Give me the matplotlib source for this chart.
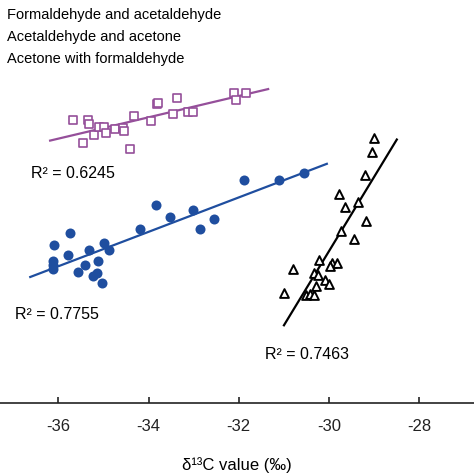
import numpy as np
import matplotlib
matplotlib.use("Agg")
import matplotlib.pyplot as plt

plt.rcParams['font.family'] = ['Liberation Sans', 'DejaVu Sans']
plt.rcParams['axes.unicode_minus'] = False

# series values (y axis is hidden in the crop, arbitrary units)
fa_x = [-31.89, -33.84, -33.53, -33.02, -32.54, -32.85, -34.19, -35.74, -36.10, -34.99,
        -34.88, -35.32, -35.79, -36.12, -36.12, -36.12, -35.41, -35.11, -35.57, -35.15,
        -35.24, -35.02, -31.11, -30.55]
fa_y = [4.95, 4.38, 4.13, 4.28, 4.08, 3.87, 3.87, 3.78, 3.51, 3.54,
        3.40, 3.40, 3.28, 3.16, 3.06, 2.97, 3.06, 3.14, 2.91, 2.89,
        2.82, 2.67, 4.95, 5.11]

aa_x = [-35.68, -35.34, -35.31, -35.46, -35.20, -35.10, -34.99, -34.95, -34.74, -34.57,
        -34.54, -34.40, -34.33, -33.95, -33.81, -33.79, -33.36, -33.45, -33.13, -33.02,
        -32.10, -32.06, -31.85]
aa_y = [6.27, 6.27, 6.18, 5.76, 5.94, 6.12, 6.11, 5.99, 6.07, 6.10,
        6.02, 5.63, 6.36, 6.25, 6.63, 6.66, 6.77, 6.40, 6.45, 6.44,
        6.87, 6.72, 6.88]

af_x = [-29.00, -29.05, -29.21, -29.78, -29.65, -29.36, -29.18, -29.73, -29.44, -30.22,
        -29.94, -29.83, -29.97, -30.81, -30.34, -30.25, -30.10, -30.00, -30.28, -31.00,
        -30.52, -30.42, -30.33]
af_y = [5.88, 5.56, 5.06, 4.63, 4.35, 4.45, 4.03, 3.82, 3.63, 3.18,
        3.11, 3.11, 3.03, 2.97, 2.89, 2.85, 2.74, 2.64, 2.60, 2.44,
        2.40, 2.42, 2.39]

labels = ['Formaldehyde and acetaldehyde', 'Acetaldehyde and acetone', 'Acetone with formaldehyde']
r2_values = ['0.7755', '0.6245', '0.7463']
# how far each trendline runs past the data (backward/forward, in x units)
trend_extend = [(0.5, 0.5), (0.5, 0.5), (0.0, 0.5)]

blue = '#1F4E9F'
purple = '#954F9A'

fig = plt.figure(figsize=(4.74, 4.74), dpi=100)
ax = fig.add_axes([0, 0.1492, 1, 0.8508])

series = [(fa_x, fa_y), (aa_x, aa_y), (af_x, af_y)]
styles = [
    dict(marker='o', s=52, facecolor=blue, edgecolor=blue, linewidths=0),
    dict(marker='s', s=30, facecolor='white', edgecolor=purple, linewidths=1.2),
    dict(marker='^', s=40, facecolor='white', edgecolor='black', linewidths=1.4),
]
line_colors = [blue, purple, 'black']

handles = []
for (xs, ys), st, lab, lc, ext in zip(series, styles, labels, line_colors, trend_extend):
    xs = np.array(xs)
    ys = np.array(ys)
    k, b = np.polyfit(xs, ys, 1)
    lx = np.array([xs.min() - ext[0], xs.max() + ext[1]])
    ax.plot(lx, k * lx + b, color=lc, lw=1.6, zorder=2)
    h = ax.scatter(xs, ys, label=lab, zorder=3, **st)
    handles.append(h)

# R² labels
ax.text(-36.96, 1.96, 'R² = ' + r2_values[0], fontsize=11.5, ha='left', va='center')
ax.text(-36.60, 5.08, 'R² = ' + r2_values[1], fontsize=11.5, ha='left', va='center')
ax.text(-31.42, 1.09, 'R² = ' + r2_values[2], fontsize=11.5, ha='left', va='center')

ax.set_xlim(-37.29, -26.79)
ax.set_ylim(0, 8.93)
ax.set_xticks([-36, -34, -32, -30, -28])
ax.set_yticks([])
for s in ['top', 'right', 'left']:
    ax.spines[s].set_visible(False)
ax.spines['bottom'].set_linewidth(1.2)
ax.spines['bottom'].set_color('#222222')
ax.tick_params(axis='x', direction='in', length=4, width=1.2, pad=11,
               labelsize=12, colors='#222222')
ax.set_xlabel('δ¹³C value (‰)', fontsize=12, labelpad=17)

leg = fig.legend(handles=handles, loc='upper left', bbox_to_anchor=(-0.02, 0.983),
                 frameon=False, fontsize=10.5, markerscale=0.6, handlelength=0.6,
                 handletextpad=0.5, labelspacing=0.55, borderpad=0, borderaxespad=0)

fig.savefig('out.png', dpi=100)
